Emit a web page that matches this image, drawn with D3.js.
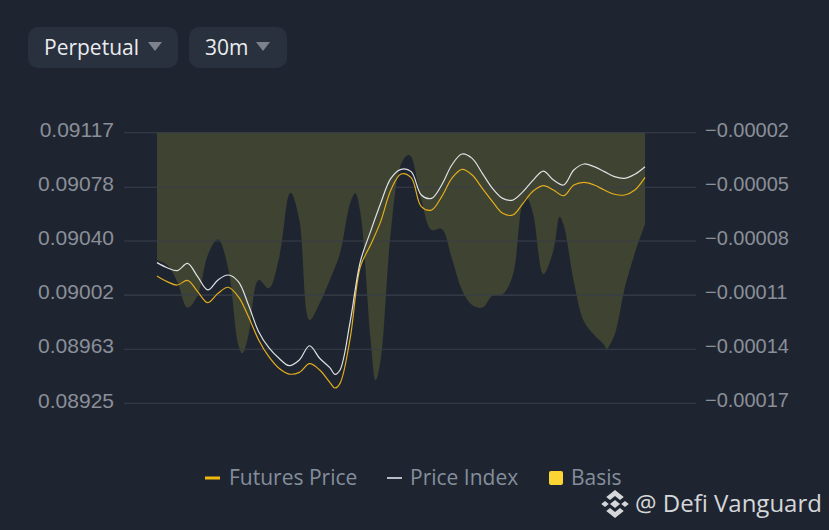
<!DOCTYPE html>
<html>
<head>
<meta charset="utf-8">
<script src="https://cdn.jsdelivr.net/npm/d3@7/dist/d3.min.js"></script>
<style>
    html, body { margin: 0; padding: 0; background: #1f2530; overflow: hidden; }
    svg { display: block; font-family: "Open Sans", sans-serif; }
    .tick text { fill: #8a8f99; }
    .axis-left .tick text { font-size: 21px; }
    .axis-right .tick text { font-size: 20px; }
    .tick line { stroke: #383e4a; stroke-width: 1.1; }
    .domain { display: none; }
    .legend-label { fill: #848e9c; font-size: 21px; }
    .pill-label { fill: #eaecef; font-size: 21px; }
</style>
</head>
<body>
<div id="chart"></div>
<script>
// ============================================
// Futures price / price index / basis (30m)
// ============================================

// half-hour slots, with a few extra readings where the curves turn sharply
const priceSlots = [
    0, 1, 2, 3, 4, 5, 6, 7, 8, 9, 10, 11, 12, 13, 14, 15, 16, 17, 17.5, 18, 19, 20,
    21, 22, 23, 24, 25, 26, 27, 28, 29, 30, 31, 32, 33, 34, 35, 36, 37, 38, 39, 40,
    41, 42, 43, 44, 45, 46, 47, 48
];

const futuresPrice = [
    0.090150, 0.090110, 0.090086, 0.090119, 0.090039, 0.089961, 0.090027,
    0.090070, 0.090003, 0.089861, 0.089696, 0.089577, 0.089495, 0.089454,
    0.089466, 0.089528, 0.089483, 0.089395, 0.089355, 0.089388, 0.089708, 0.090216,
    0.090370, 0.090536, 0.090760, 0.090874, 0.090848, 0.090642, 0.090618,
    0.090713, 0.090843, 0.090907, 0.090867, 0.090772, 0.090678, 0.090595,
    0.090583, 0.090666, 0.090753, 0.090791, 0.090760, 0.090720, 0.090796,
    0.090815, 0.090796, 0.090760, 0.090730, 0.090725, 0.090760, 0.090850
];

const priceIndex = [
    0.090245, 0.090209, 0.090188, 0.090240, 0.090145, 0.090051, 0.090122,
    0.090157, 0.090110, 0.089944, 0.089755, 0.089641, 0.089566, 0.089514,
    0.089554, 0.089655, 0.089566, 0.089499, 0.089452, 0.089483, 0.089826, 0.090252,
    0.090465, 0.090666, 0.090843, 0.090907, 0.090891, 0.090725, 0.090701,
    0.090796, 0.090938, 0.091016, 0.090985, 0.090879, 0.090772, 0.090701,
    0.090689, 0.090749, 0.090831, 0.090895, 0.090831, 0.090796, 0.090902,
    0.090945, 0.090926, 0.090891, 0.090855, 0.090843, 0.090872, 0.090926
];

const basisSlots = [
    0, 1, 2, 3, 4, 5, 6, 7, 8, 8.4, 9, 10, 11, 12, 13, 13.2, 14, 15, 16, 17, 18, 19, 19.5, 20,
    21, 21.5, 22, 23, 24, 24.7, 25, 26, 27, 28, 29, 30, 31, 32, 33, 34, 35, 36, 36.4, 37, 38, 39, 39.6, 40,
    41, 42, 43, 44, 44.2, 45, 46, 47, 48
];

const basis = [
    -0.00009079, -0.00009357, -0.00010281, -0.00011722, -0.00011020, -0.00008802, -0.00007934,
    -0.00009541, -0.00013792, -0.00014254, -0.00013237, -0.00010188, -0.00010650, -0.00008987, -0.00005439,
    -0.00005365, -0.00006862, -0.00012406, -0.00011482, -0.00010188, -0.00008710, -0.00005938, -0.00005383, -0.00006437,
    -0.00013422, -0.00015751, -0.00014623, -0.00007509, -0.00003776, -0.00003258, -0.00003351, -0.00005753, -0.00007416,
    -0.00007361, -0.00008987, -0.00010743, -0.00011574, -0.00011722, -0.00011057, -0.00010983,
    -0.00009911, -0.00005882, -0.00005661, -0.00006548, -0.00009874, -0.00008525, -0.00006677, -0.00007139, -0.00010281,
    -0.00012498, -0.00013237, -0.00013792, -0.00014014, -0.00013237, -0.00010650, -0.00008710, -0.00007102
];

const priceTicks = [0.09117, 0.090784, 0.090402, 0.090018, 0.089634, 0.08925];
const basisTicks = [-0.00002, -0.00005, -0.00008, -0.00011, -0.00014, -0.00017];
const legendNames = ['Futures Price', 'Price Index', 'Basis'];
const pillNames = ['Perpetual', '30m'];

const width = 829, height = 530;
const svg = d3.select('#chart').append('svg')
    .attr('width', width)
    .attr('height', height);

const x = d3.scaleLinear().domain([0, 48]).range([157, 645]);
const yPrice = d3.scaleLinear().domain([0.08925, 0.09117]).range([402.8, 132.3]);
const yBasis = d3.scaleLinear().domain([-0.00017, -0.00002]).range([402.8, 132.3]);

// Basis hangs from the top of the plot
const basisArea = d3.area()
    .x((d, i) => x(basisSlots[i]))
    .y0(yBasis(-0.00002))
    .y1(d => yBasis(d))
    .curve(d3.curveCatmullRom.alpha(0.5));

svg.append('path')
    .datum(basis)
    .attr('d', basisArea)
    .attr('fill', '#e6e13a')
    .attr('fill-opacity', 0.16);

// Grid lines come from the left axis ticks
svg.append('g')
    .attr('class', 'axis-left')
    .attr('transform', 'translate(124,0)')
    .call(d3.axisLeft(yPrice).tickValues(priceTicks).tickSize(-572).tickPadding(10)
        .tickFormat(d => d.toFixed(5)))
    .selectAll('text').attr('dy', '0.2em');

svg.append('g')
    .attr('class', 'axis-right')
    .attr('transform', 'translate(696,0)')
    .call(d3.axisRight(yBasis).tickValues(basisTicks).tickSize(0).tickPadding(9)
        .tickFormat(d => '\u2212' + Math.abs(d).toFixed(5)))
    .selectAll('text').attr('dy', '0.2em');

const line = d3.line()
    .x((d, i) => x(priceSlots[i]))
    .y(d => yPrice(d))
    .curve(d3.curveCatmullRom.alpha(0.5));

svg.append('path')
    .datum(futuresPrice)
    .attr('d', line)
    .attr('fill', 'none')
    .attr('stroke', '#e2ad1c')
    .attr('stroke-width', 1.2);

svg.append('path')
    .datum(priceIndex)
    .attr('d', line)
    .attr('fill', 'none')
    .attr('stroke', '#dfe1e3')
    .attr('stroke-width', 1.2);

// Dropdown pills
const pills = svg.selectAll('.pill')
    .data(pillNames)
    .enter().append('g')
    .attr('class', 'pill')
    .attr('transform', (d, i) => `translate(${[28, 189][i]},27)`);

pills.append('rect')
    .attr('width', (d, i) => [150, 98][i])
    .attr('height', 41)
    .attr('rx', 10)
    .attr('fill', '#29313e');

pills.append('text')
    .attr('class', 'pill-label')
    .attr('x', 16)
    .attr('y', 28)
    .text(d => d);

pills.append('path')
    .attr('transform', (d, i) => `translate(${[127, 74][i]},20)`)
    .attr('d', 'M-7,-5L7,-5L0,4Z')
    .attr('fill', '#7d828c');

// Legend
const legend = svg.selectAll('.legend')
    .data(legendNames)
    .enter().append('g')
    .attr('class', 'legend')
    .attr('transform', (d, i) => `translate(${[205, 387, 549][i]},478)`);

legend.filter((d, i) => i === 0).append('rect')
    .attr('y', -1.5).attr('width', 15).attr('height', 3).attr('fill', '#f0b90b');
legend.filter((d, i) => i === 1).append('rect')
    .attr('y', -1).attr('width', 15).attr('height', 2).attr('fill', '#b7bdc6');
legend.filter((d, i) => i === 2).append('rect')
    .attr('y', -7).attr('width', 14).attr('height', 14).attr('rx', 2).attr('fill', '#fcd535');

legend.append('text')
    .attr('class', 'legend-label')
    .attr('x', (d, i) => [24, 23, 22][i])
    .attr('y', 7)
    .text(d => d);

// Watermark
const mark = svg.append('g').attr('transform', 'translate(615,504) scale(1.25,1)').attr('fill', '#d5d7da');
mark.append('path').attr('d', 'M0,-14L7,-7L4,-4L0,-8L-4,-4L-7,-7Z');
mark.append('path').attr('d', 'M0,14L7,7L4,4L0,8L-4,4L-7,7Z');
mark.append('path').attr('d', 'M0,-4L4,0L0,4L-4,0Z');
mark.append('path').attr('d', 'M-11,0L-8,-3L-5,0L-8,3Z');
mark.append('path').attr('d', 'M11,0L8,-3L5,0L8,3Z');
svg.append('text')
    .attr('x', 635)
    .attr('y', 512)
    .attr('fill', '#d5d7da')
    .style('font-size', '24px')
    .text('@ Defi Vanguard');
</script>
</body>
</html>
